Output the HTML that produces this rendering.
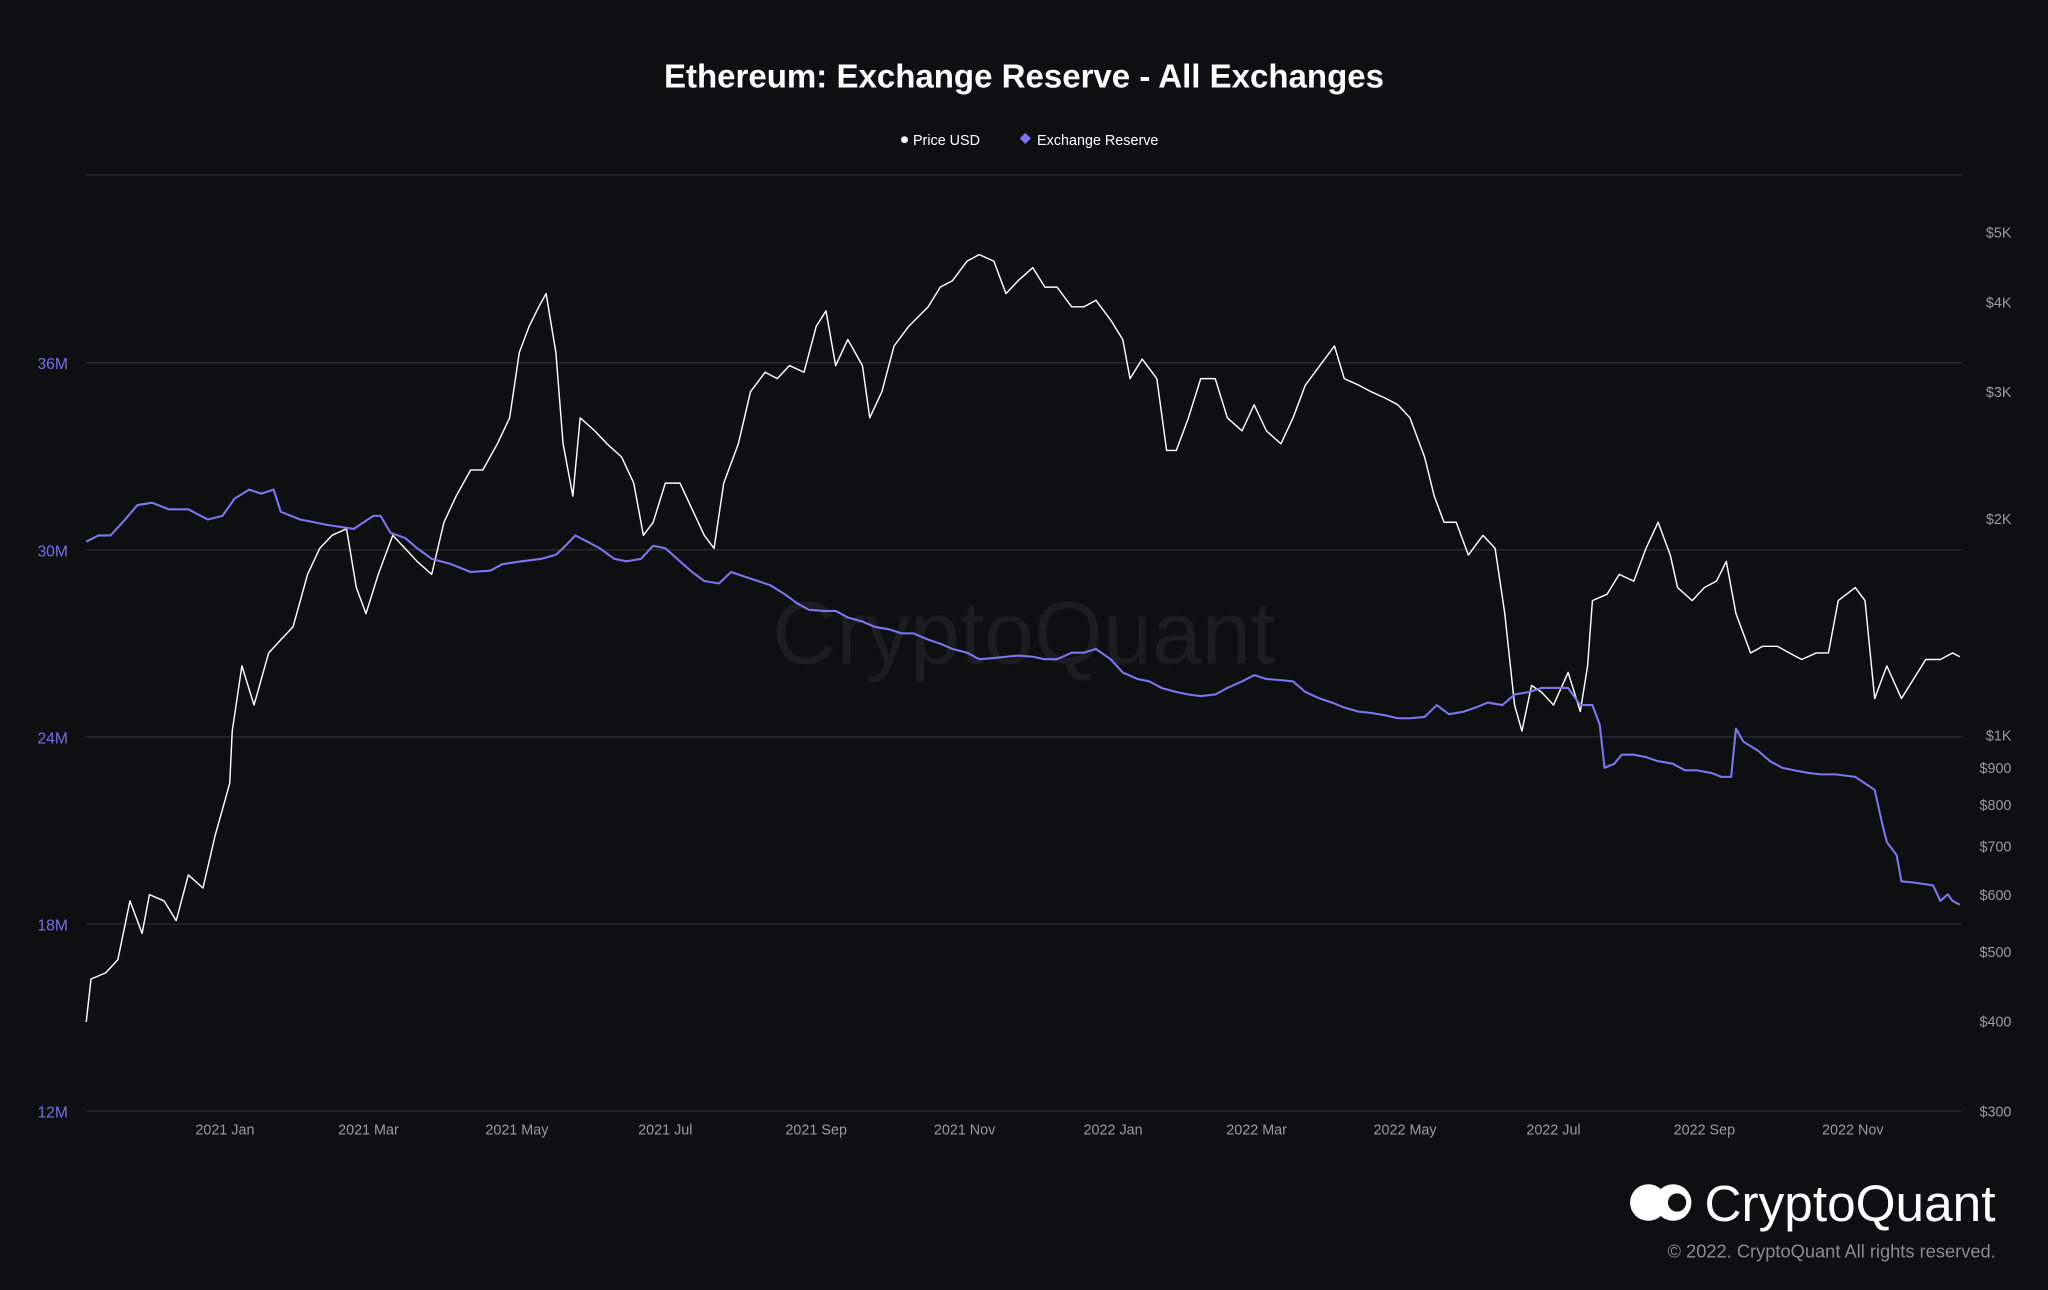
<!DOCTYPE html>
<html><head><meta charset="utf-8"><style>
html,body{margin:0;padding:0;background:#0f0f12;}
svg{display:block;}
text{font-family:"Liberation Sans",sans-serif;}
</style></head><body>
<svg id="chart" width="2048" height="1290" viewBox="0 0 1568 988" preserveAspectRatio="none" xmlns="http://www.w3.org/2000/svg">
<rect width="1568" height="988" fill="#0f0f12"/>
<text x="784" y="67" text-anchor="middle" font-size="25.3" font-weight="bold" fill="#ffffff">Ethereum: Exchange Reserve - All Exchanges</text>
<g>
<circle cx="692.5" cy="107" r="2.6" fill="#ffffff"/>
<text x="699" y="111" font-size="11" fill="#ffffff">Price USD</text>
<rect x="782" y="103" width="6" height="6" fill="#7b76f0" transform="rotate(45 785 106)"/>
<text x="794" y="111" font-size="11" fill="#ffffff">Exchange Reserve</text>
</g>
<line x1="66" y1="134" x2="1502" y2="134" stroke="#2c2c30" stroke-width="1"/>
<text x="784" y="508" text-anchor="middle" font-size="68" fill="#1d1d21">CryptoQuant</text>
<g id="grid"></g>
<g id="axes"></g>
<g id="series"></g>
<g>
<circle cx="1262" cy="921" r="14" fill="#ffffff"/>
<circle cx="1281" cy="921" r="14" fill="#ffffff"/>
<circle cx="1284" cy="921" r="7" fill="#0f0f12"/>
<text x="1305" y="935" font-size="39.3" fill="#ffffff">CryptoQuant</text>
</g>
<text x="1528" y="963" text-anchor="end" font-size="14" fill="#8a8a90">© 2022. CryptoQuant All rights reserved.</text>
</svg>
<script>
const reserveTickValues = [12, 18, 24, 30, 36];
const reserveTickLabels = ["12M", "18M", "24M", "30M", "36M"];
const priceTickValues = [300, 400, 500, 600, 700, 800, 900, 1000, 2000, 3000, 4000, 5000];
const priceTickLabels = ["$300", "$400", "$500", "$600", "$700", "$800", "$900", "$1K", "$2K", "$3K", "$4K", "$5K"];
const dateTickDates = ["2021-01-01","2021-03-01","2021-05-01","2021-07-01","2021-09-01","2021-11-01","2022-01-01","2022-03-01","2022-05-01","2022-07-01","2022-09-01","2022-11-01"];
const dateTickLabels = ["2021 Jan","2021 Mar","2021 May","2021 Jul","2021 Sep","2021 Nov","2022 Jan","2022 Mar","2022 May","2022 Jul","2022 Sep","2022 Nov"];

// days since 2020-11-05
const priceDays = [0,2,8,13,18,23,26,32,37,42,48,53,59,60,64,69,75,80,85,91,96,101,107,111,115,120,126,131,136,142,147,152,158,163,169,174,
178,182,186,189,193,196,200,203,209,214,220,225,229,233,238,244,249,254,258,
262,268,273,279,284,289,295,300,304,308,313,319,322,327,332,
338,346,351,356,362,367,373,378,383,389,394,399,405,410,415,421,426,429,434,440,444,
448,453,458,464,469,475,480,485,491,496,
501,507,513,517,523,528,534,539,544,550,554,558,563,568,574,579,583,587,590,594,598,603,609,614,617,619,625,630,636,641,646,651,654,660,665,670,674,678,684,689,695,700,705,711,716,720,727,731,735,740,746,751,756,762,767,770];
const priceValues = [399,458,467,487,588,530,600,588,552,639,613,725,857,1013,1248,1101,1301,1357,1415,1673,1818,1896,1936,1604,1475,1673,1896,1818,1744,1673,1977,2149,2337,2337,2541,2762,
3404,3701,3940,4110,3404,2541,2149,2762,2649,2541,2436,2241,1896,1977,2241,2241,2061,1896,1818,
2241,2541,3002,3196,3131,3264,3196,3701,3890,3264,3549,3264,2762,3002,3475,
3701,3940,4196,4283,4560,4657,4560,4110,4283,4467,4196,4196,3940,3940,4023,3779,3549,3131,3333,3131,2488,
2488,2762,3131,3131,2762,2649,2879,2649,2541,2762,
3066,3264,3475,3131,3066,3002,2940,2879,2762,2436,2149,1977,1977,1780,1896,1818,1475,1101,1013,1172,1148,1101,1222,1078,1248,1538,1570,1673,1637,1818,1977,1780,1604,1538,1604,1637,1744,1475,1301,1329,1329,1301,1274,1301,1301,1538,1604,1538,1124,1248,1124,1197,1274,1274,1301,1285];

const reserveDays = [0,5,10,16,21,27,34,42,50,56,61,67,72,77,80,88,99,110,118,121,125,131,136,142,150,158,166,171,179,187,193,196,201,206,211,217,222,228,233,238,244,249,254,260,265,271,276,281,287,292,297,303,308,313,319,324,330,335,340,346,351,356,362,367,373,378,383,389,394,399,405,410,415,421,426,432,437,442,448,453,458,464,469,475,480,485,491,496,501,507,512,517,523,528,534,539,544,550,555,560,566,571,576,582,587,593,598,603,609,614,619,622,624,628,631,636,641,646,652,657,662,668,672,676,678,681,687,692,697,702,708,713,719,727,731,735,738,740,744,746,751,759,762,765,767,770];
const reserveValues = [30.26,30.46,30.46,30.97,31.43,31.51,31.30,31.30,30.97,31.09,31.64,31.93,31.80,31.93,31.22,30.97,30.80,30.67,31.09,31.09,30.55,30.38,30.05,29.71,29.54,29.29,29.33,29.54,29.63,29.71,29.84,30.05,30.46,30.26,30.05,29.71,29.63,29.71,30.13,30.05,29.63,29.29,29.00,28.92,29.29,29.13,29.00,28.87,28.58,28.29,28.08,28.04,28.04,27.83,27.70,27.53,27.45,27.32,27.32,27.12,26.99,26.82,26.70,26.49,26.53,26.57,26.61,26.57,26.49,26.49,26.70,26.70,26.82,26.49,26.07,25.86,25.78,25.57,25.44,25.36,25.31,25.36,25.57,25.78,25.98,25.86,25.82,25.78,25.44,25.23,25.10,24.94,24.81,24.77,24.69,24.60,24.60,24.64,25.02,24.73,24.81,24.94,25.10,25.02,25.36,25.44,25.57,25.57,25.57,25.02,25.02,24.39,23.01,23.14,23.43,23.43,23.35,23.22,23.14,22.93,22.93,22.84,22.72,22.72,24.27,23.85,23.56,23.22,23.01,22.93,22.84,22.80,22.80,22.72,22.51,22.30,21.25,20.63,20.21,19.37,19.33,19.24,18.74,18.95,18.74,18.62];

const NS = "http://www.w3.org/2000/svg";
const X0 = 66, PX_PER_DAY = 1.863;
const START = Date.UTC(2020, 10, 5);
function xOf(day) { return X0 + day * PX_PER_DAY; }
function yRes(v) { return 851 - (v - 12) / 6 * 143.3; }
function yPrice(p) { return 563 - (Math.log10(p) - 3) * 550.8; }
function dayOf(s) { const [y, m, d] = s.split("-").map(Number); return (Date.UTC(y, m - 1, d) - START) / 86400000; }
function mk(tag, attrs, parent) { const e = document.createElementNS(NS, tag); for (const k in attrs) e.setAttribute(k, attrs[k]); parent.appendChild(e); return e; }

const grid = document.getElementById("grid");
const axes = document.getElementById("axes");
const series = document.getElementById("series");

reserveTickValues.forEach((v, i) => {
  const y = yRes(v);
  const gl = mk("line", { x1: 66, x2: 1502, y1: y, y2: y, stroke: "#2c2c30", "stroke-width": 1 }, grid);
  
  
  const t = mk("text", { x: 52, y: y + 5, "text-anchor": "end", "font-size": 12, fill: "#7570e8" }, axes);
  t.textContent = reserveTickLabels[i];
  
  
});
priceTickValues.forEach((v, i) => {
  const t = mk("text", { x: 1540, y: yPrice(v) + 4, "text-anchor": "end", "font-size": 11, fill: "#9a9aa0" }, axes);
  t.textContent = priceTickLabels[i];
  
  
});
dateTickDates.forEach((d, i) => {
  const t = mk("text", { x: xOf(dayOf(d)), y: 869, "text-anchor": "middle", "font-size": 11, fill: "#9a9aa0" }, axes);
  t.textContent = dateTickLabels[i];
  
  
});

const pricePath = mk("path", { d: priceDays.map((d, i) => (i ? "L" : "M") + xOf(d).toFixed(1) + " " + yPrice(priceValues[i]).toFixed(1)).join(""), fill: "none", stroke: "#ffffff", "stroke-width": 1.1, "stroke-linejoin": "round" }, series);


const resPath = mk("path", { d: reserveDays.map((d, i) => (i ? "L" : "M") + xOf(d).toFixed(1) + " " + yRes(reserveValues[i]).toFixed(1)).join(""), fill: "none", stroke: "#7b76f0", "stroke-width": 1.6, "stroke-linejoin": "round" }, series);


</script>
</body></html>
